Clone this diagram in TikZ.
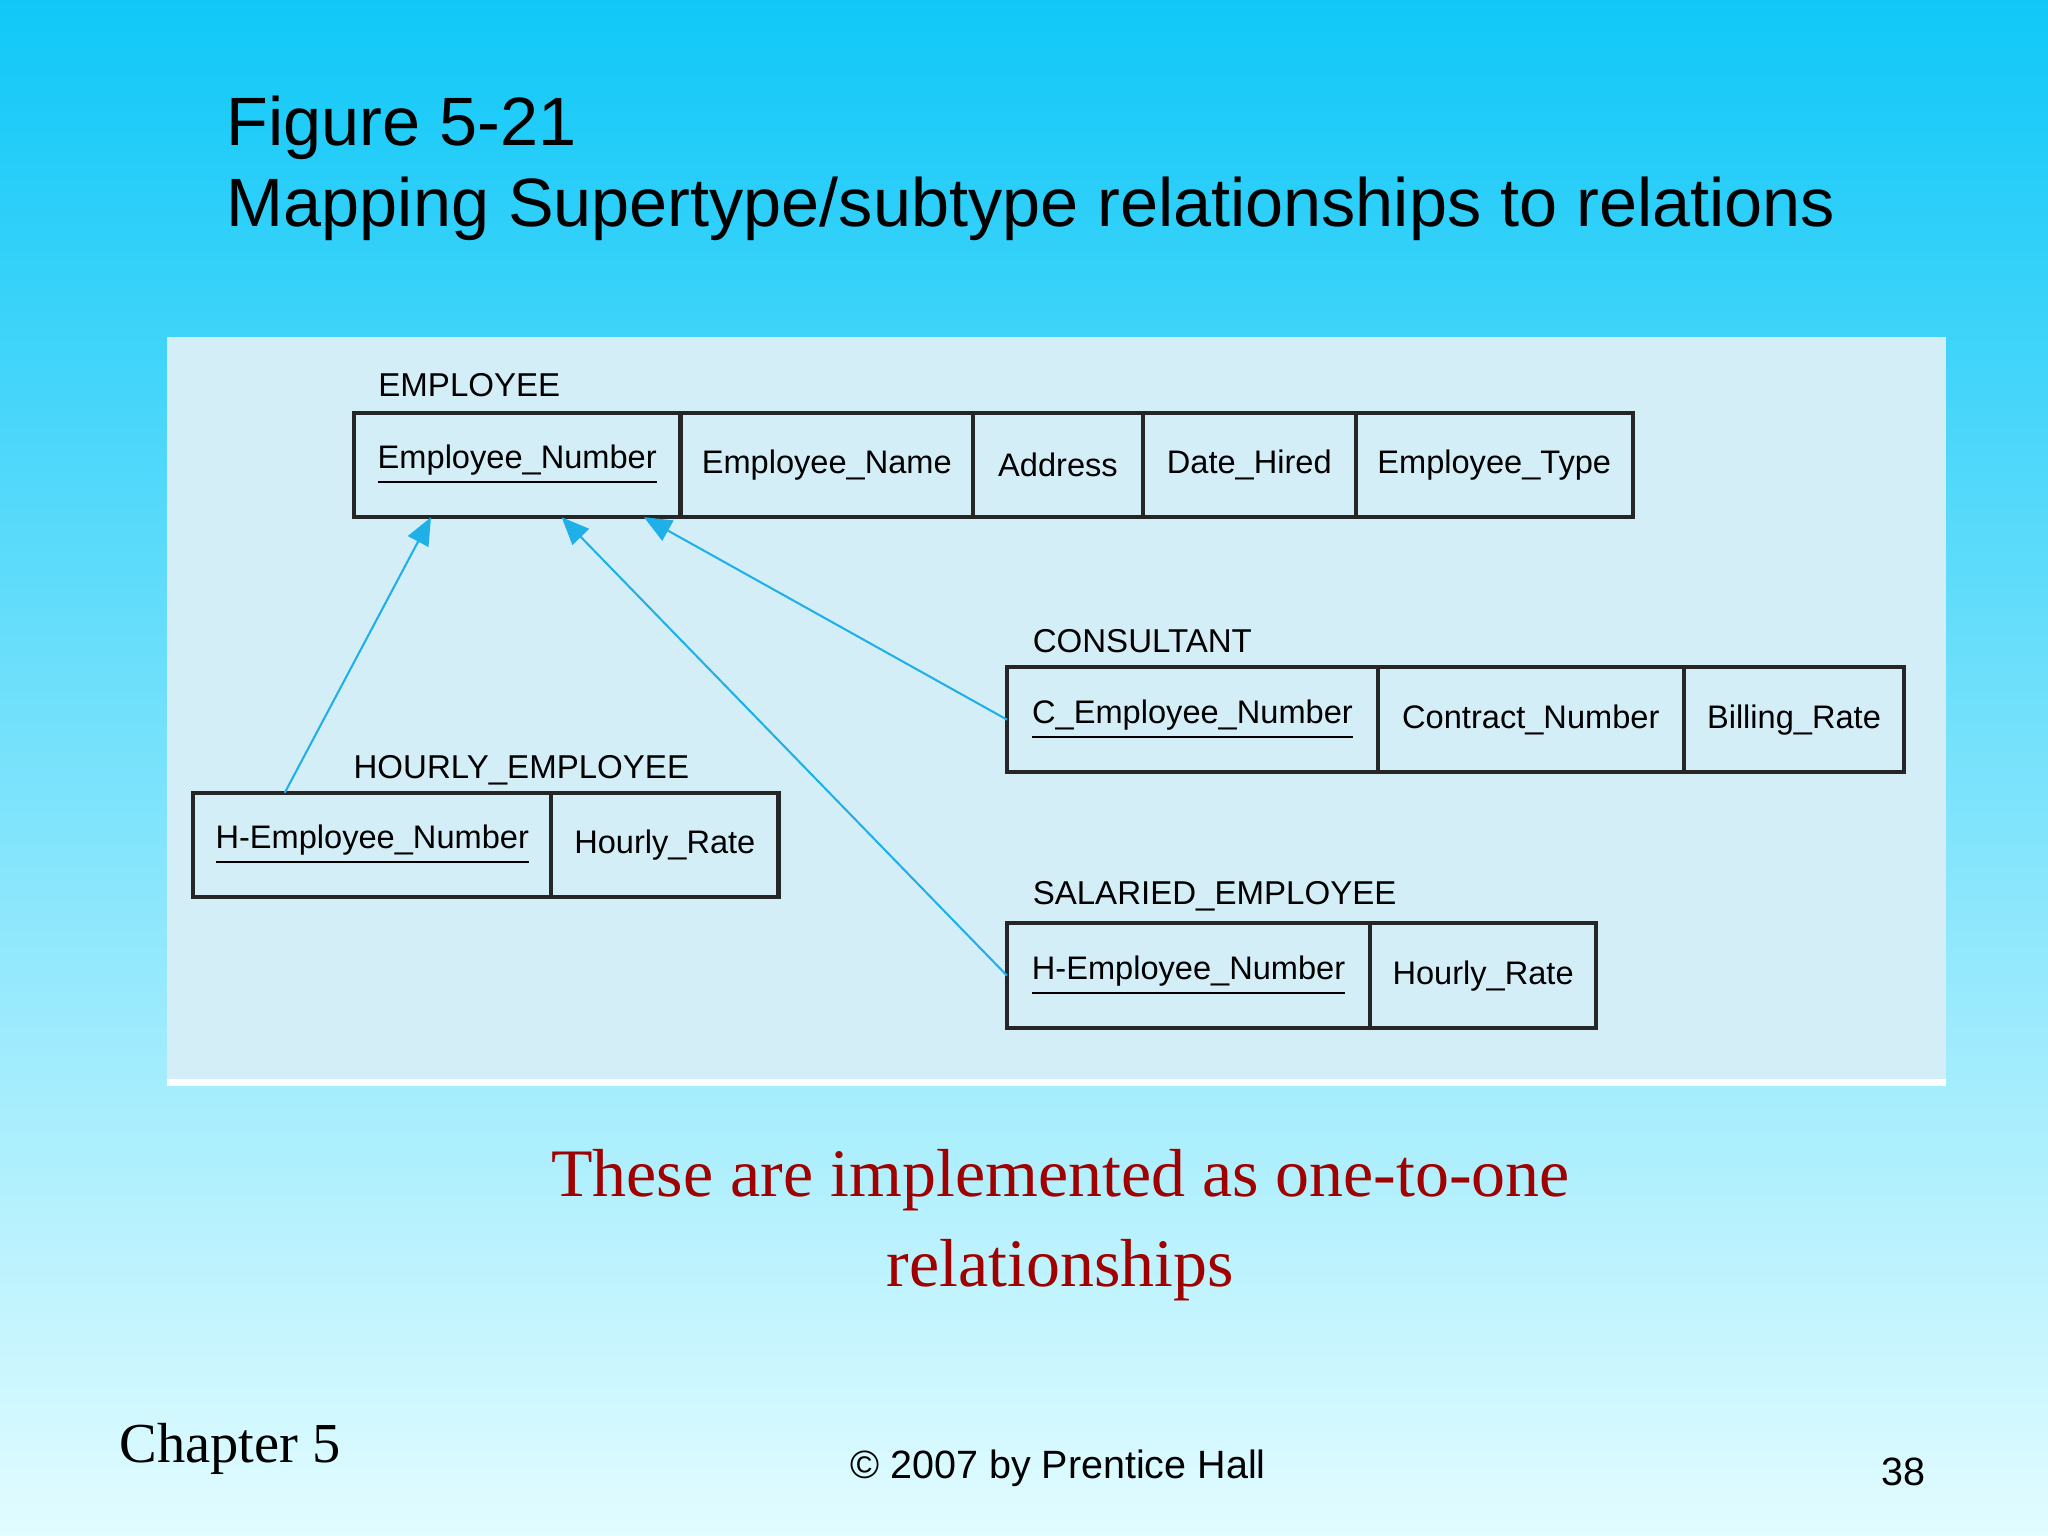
\documentclass[tikz,border=0pt]{standalone}
\usepackage{fontspec}
\setmainfont{Liberation Sans}
\newfontfamily\timesf{Liberation Serif}
\usetikzlibrary{arrows.meta}
\definecolor{bgtop}{HTML}{10C8F8}
\definecolor{bgbot}{HTML}{E2FCFF}
\definecolor{panel}{HTML}{D4EEF8}
\definecolor{arr}{HTML}{20B0E8}
\definecolor{dred}{HTML}{A00000}
\tikzset{
 cell/.style={draw=black!85,line width=0.9pt,anchor=north west,minimum height=0.8cm,inner sep=0pt,outer sep=0pt,font=\fontsize{7.1}{9}\selectfont},
 tlabel/.style={anchor=west,inner sep=0pt,font=\fontsize{7.2}{9}\selectfont},
 link/.style={draw=arr,line width=0.45pt,-{Triangle[length=6pt,width=5pt]}}
}
\begin{document}
\begin{tikzpicture}[x=1cm,y=1cm]
\shade[top color=bgtop,bottom color=bgbot] (0,0) rectangle (15.68,-11.76);
\useasboundingbox (0,0) rectangle (15.68,-11.76);
\fill[panel] (1.28,-2.58) rectangle (14.90,-8.28);
\draw[white,line width=1.5pt] (1.28,-8.29) -- (14.90,-8.29);
\node[anchor=west,inner sep=0pt,font=\fontsize{14.9}{18}\selectfont] (t1) at (1.73,-0.98) {Figure 5-21};
\node[anchor=west,inner sep=0pt,font=\fontsize{14.9}{18}\selectfont] (t2) at (1.73,-1.60) {Mapping Supertype/subtype relationships to relations};
% EMPLOYEE
\node[tlabel] (le) at (2.89,-2.95) {EMPLOYEE};
\node[cell,minimum width=2.50cm] (e1) at (2.71,-3.16) {\underline{Employee\_Number}};
\node[cell,minimum width=2.24cm] (e2) at (5.21,-3.16) {Employee\_Name};
\node[cell,minimum width=1.30cm] (e3) at (7.45,-3.16) {Address};
\node[cell,minimum width=1.63cm] (e4) at (8.75,-3.16) {Date\_Hired};
\node[cell,minimum width=2.12cm] (e5) at (10.38,-3.16) {Employee\_Type};
% CONSULTANT
\node[tlabel] (lc) at (7.90,-4.91) {CONSULTANT};
\node[cell,minimum width=2.84cm] (c1) at (7.71,-5.11) {\underline{C\_Employee\_Number}};
\node[cell,minimum width=2.34cm] (c2) at (10.55,-5.11) {Contract\_Number};
\node[cell,minimum width=1.69cm] (c3) at (12.89,-5.11) {Billing\_Rate};
% HOURLY
\node[tlabel] (lh) at (2.70,-5.90) {HOURLY\_EMPLOYEE};
\node[cell,minimum width=2.74cm] (h1) at (1.48,-6.07) {\underline{H-Employee\_Number}};
\node[cell,minimum width=1.74cm] (h2) at (4.22,-6.07) {Hourly\_Rate};
% SALARIED
\node[tlabel] (ls) at (7.90,-6.86) {SALARIED\_EMPLOYEE};
\node[cell,minimum width=2.78cm] (s1) at (7.71,-7.07) {\underline{H-Employee\_Number}};
\node[cell,minimum width=1.73cm] (s2) at (10.49,-7.07) {Hourly\_Rate};
% arrows
\draw[link] ([xshift=0.70cm]h1.north west) -- ([xshift=0.59cm]e1.south west);
\draw[link] (s1.west) -- ([xshift=1.59cm]e1.south west);
\draw[link] (c1.west) -- ([xshift=2.22cm]e1.south west);
% bottom texts
\node[align=center,text=dred,inner sep=0pt,font=\timesf\fontsize{14.8}{19.5}\selectfont] (note) at (8.12,-9.38) {These are implemented as one-to-one\\relationships};
\node[anchor=west,inner sep=0pt,font=\timesf\fontsize{12.3}{14}\selectfont] (ch) at (0.91,-11.09) {Chapter 5};
\node[inner sep=0pt,font=\fontsize{8.6}{10}\selectfont] (cp) at (8.10,-11.24) {© 2007 by Prentice Hall};
\node[inner sep=0pt,font=\fontsize{8.6}{10}\selectfont] (pg) at (14.57,-11.27) {38};
\end{tikzpicture}
\end{document}
